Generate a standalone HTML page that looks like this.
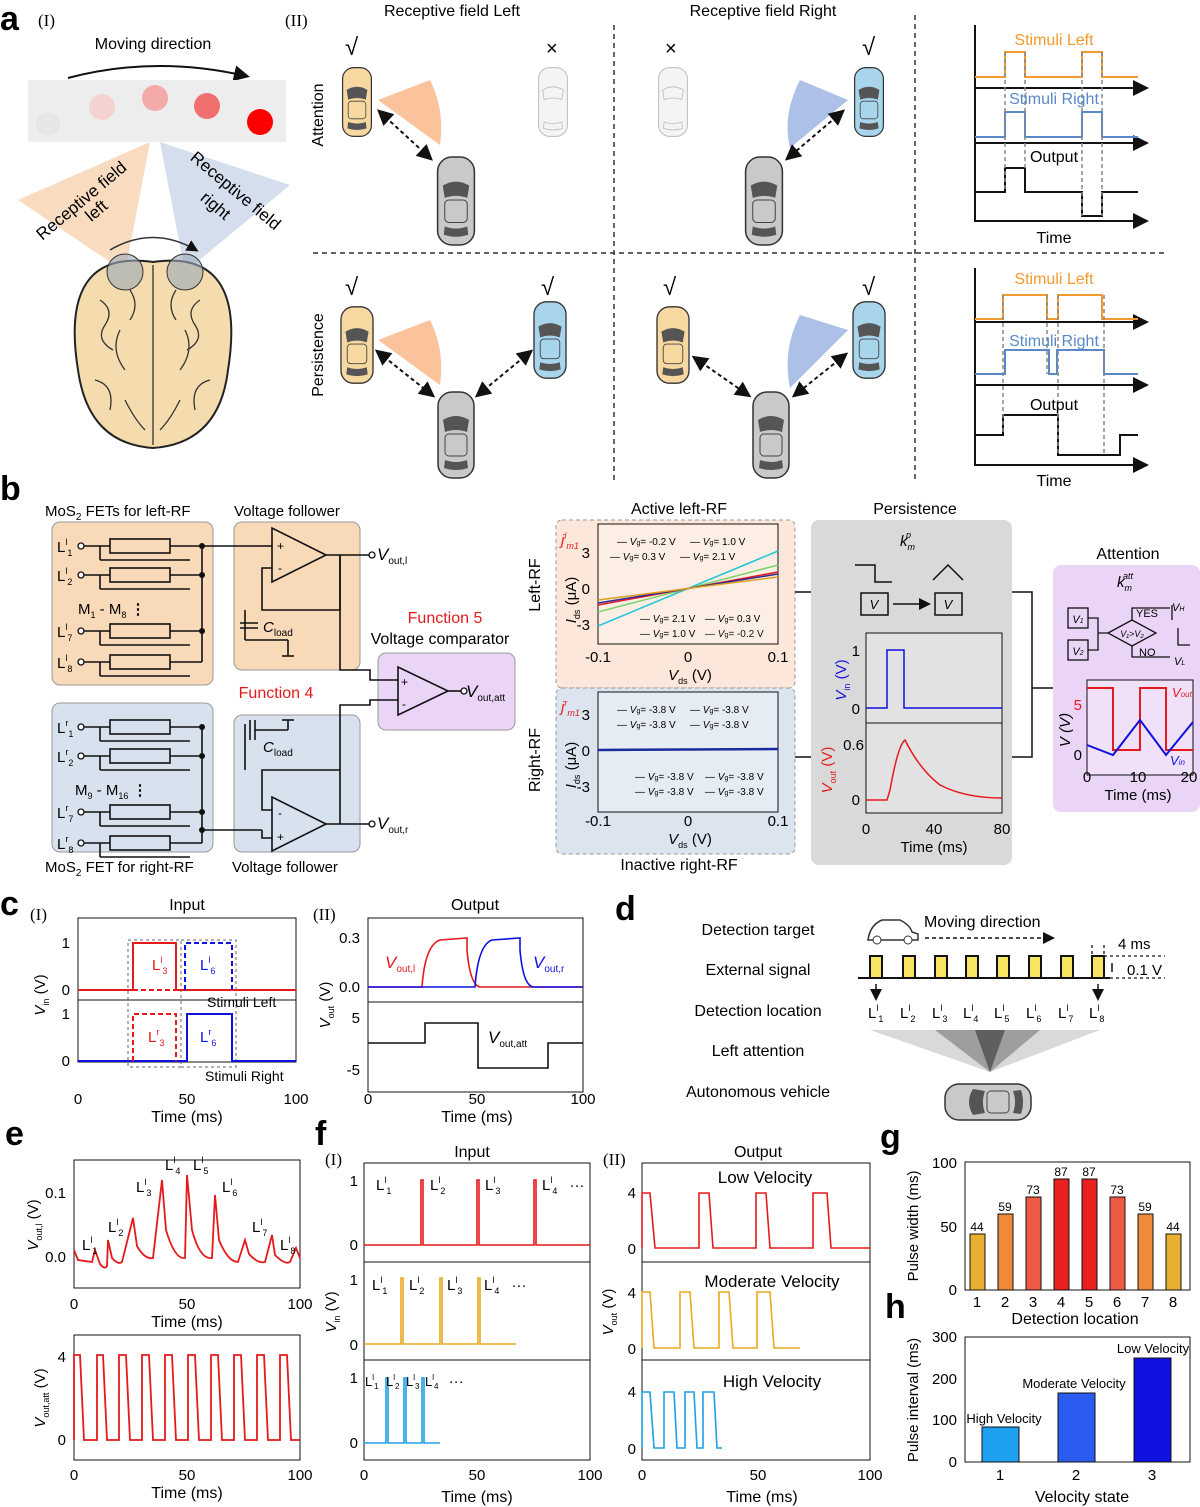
<!DOCTYPE html>
<html><head><meta charset="utf-8"><style>
html,body{margin:0;padding:0;background:#fff}
svg{display:block;font-family:"Liberation Sans",sans-serif}
</style></head><body>
<svg width="1200" height="1507" viewBox="0 0 1200 1507" xmlns="http://www.w3.org/2000/svg">
<defs>
<symbol id="car" viewBox="0 0 40 90">
<rect x="2" y="2" width="36" height="86" rx="14" fill="currentColor" stroke="#333" stroke-width="1.5"/>
<path d="M7 30 Q20 22 33 30 L31 42 Q20 38 9 42Z" fill="#555"/>
<rect x="9" y="44" width="22" height="22" rx="4" fill="none" stroke="#444"/>
<path d="M9 70 Q20 74 31 70 L32 78 Q20 82 8 78Z" fill="#555"/>
</symbol>
<symbol id="ghost" viewBox="0 0 40 90">
<rect x="2" y="2" width="36" height="86" rx="14" fill="#f4f4f4" stroke="#bbb" stroke-width="1.2"/>
<path d="M7 30 Q20 22 33 30 L31 42 Q20 38 9 42Z" fill="none" stroke="#bbb"/>
<path d="M9 70 Q20 74 31 70 L32 78 Q20 82 8 78Z" fill="none" stroke="#bbb"/>
</symbol>
<marker id="ah" markerWidth="8" markerHeight="8" refX="6" refY="4" orient="auto"><path d="M0 0L8 4L0 8Z" fill="#111"/></marker>
<marker id="ahs" markerWidth="8" markerHeight="8" refX="6" refY="4" orient="auto-start-reverse"><path d="M0 0L8 4L0 8Z" fill="#111"/></marker>
</defs>
<rect width="1200" height="1507" fill="#fff"/>

<!-- ===== Panel a ===== -->
<text x="0" y="30" font-size="34" font-weight="bold">a</text>
<text x="38" y="26" font-size="17" font-family="Liberation Serif">(I)</text>
<text x="153" y="49" font-size="16" text-anchor="middle">Moving direction</text>
<path d="M68 78 Q155 55 246 76" fill="none" stroke="#111" stroke-width="2" marker-end="url(#ah)"/>
<rect x="28" y="80" width="258" height="62" fill="#ededed"/>
<circle cx="48" cy="124" r="12" fill="#e6e6e6"/>
<circle cx="102" cy="107" r="13" fill="#f4d2d0"/>
<circle cx="155" cy="98" r="13" fill="#f5aaaa"/>
<circle cx="207" cy="106" r="13" fill="#f07070"/>
<circle cx="260" cy="122" r="13" fill="#f00"/>
<path d="M125 272 L18 200 L150 142Z" fill="#f8d3b0" opacity="0.8"/>
<path d="M185 272 L160 142 L290 185Z" fill="#c9d6e8" opacity="0.8"/>
<text transform="translate(85,205) rotate(-40)" font-size="17" text-anchor="middle">Receptive field</text>
<text transform="translate(100,215) rotate(-40)" font-size="17" text-anchor="middle">left</text>
<text transform="translate(232,195) rotate(40)" font-size="17" text-anchor="middle">Receptive field</text>
<text transform="translate(212,210) rotate(40)" font-size="17" text-anchor="middle">right</text>
<path d="M110 250 Q153 225 196 250" fill="none" stroke="#333" stroke-width="1.5" marker-end="url(#ah)"/>
<path d="M153 262 C70 250 70 320 78 370 C85 420 110 445 153 448 C196 445 222 420 228 370 C236 320 236 250 153 262Z" fill="#f5dcae" stroke="#222" stroke-width="2"/>
<path d="M153 265 L153 445 M100 300 q15 10 5 25 q-10 15 8 25 M120 330 q-10 20 5 40 M200 300 q-15 10 -5 25 q10 15 -8 25 M185 330 q10 20 -5 40 M95 380 q20 5 15 30 M210 380 q-20 5 -15 30 M130 290 q10 15 0 30 M176 290 q-10 15 0 30 M125 400 q10 20 20 30 M180 400 q-10 20 -20 30" fill="none" stroke="#333" stroke-width="1.3"/>
<circle cx="125" cy="272" r="18" fill="#9aa9b8" fill-opacity="0.6" stroke="#333"/>
<circle cx="185" cy="272" r="18" fill="#9aa9b8" fill-opacity="0.6" stroke="#333"/>

<text x="285" y="26" font-size="17" font-family="Liberation Serif">(II)</text>
<text x="452" y="16" font-size="16" text-anchor="middle">Receptive field Left</text>
<text x="763" y="16" font-size="16" text-anchor="middle">Receptive field Right</text>
<line x1="614" y1="25" x2="614" y2="482" stroke="#333" stroke-width="1.5" stroke-dasharray="5,4"/>
<line x1="915" y1="15" x2="915" y2="482" stroke="#333" stroke-width="1.5" stroke-dasharray="5,4"/>
<line x1="313" y1="253" x2="1165" y2="253" stroke="#333" stroke-width="1.5" stroke-dasharray="5,4"/>
<text transform="translate(323,115) rotate(-90)" font-size="16" text-anchor="middle">Attention</text>
<text transform="translate(323,355) rotate(-90)" font-size="16" text-anchor="middle">Persistence</text>
<g font-size="24">
<text x="345" y="55">√</text><text x="546" y="55" font-size="20">×</text><text x="665" y="55" font-size="20">×</text><text x="862" y="55">√</text>
<text x="345" y="295">√</text><text x="541" y="295">√</text><text x="663" y="295">√</text><text x="862" y="295">√</text>
</g>
<!-- waves -->
<path d="M378 100 L430 80 Q445 110 440 145 Z" fill="#f9b98a" opacity="0.85"/>
<path d="M848 100 L800 80 Q782 115 790 148 Z" fill="#9fb6e4" opacity="0.85"/>
<path d="M378 340 L430 320 Q445 350 440 385 Z" fill="#f9b98a" opacity="0.85"/>
<path d="M848 330 L800 315 Q782 350 790 388 Z" fill="#9fb6e4" opacity="0.85"/>
<use href="#car" x="337" y="66" width="40" height="72" style="color:#f7d8a0"/>
<use href="#ghost" x="535" y="66" width="36" height="72"/>
<use href="#ghost" x="655" y="66" width="36" height="72"/>
<use href="#car" x="849" y="66" width="40" height="72" style="color:#a8d4ec"/>
<use href="#car" x="435" y="155" width="42" height="92" style="color:#c9c9c9"/>
<use href="#car" x="743" y="155" width="42" height="92" style="color:#c9c9c9"/>
<use href="#car" x="337" y="305" width="40" height="80" style="color:#f7d8a0"/>
<use href="#car" x="530" y="300" width="40" height="80" style="color:#a8d4ec"/>
<use href="#car" x="655" y="305" width="36" height="80" style="color:#f7d8a0"/>
<use href="#car" x="849" y="300" width="40" height="80" style="color:#a8d4ec"/>
<use href="#car" x="435" y="390" width="42" height="90" style="color:#c9c9c9"/>
<use href="#car" x="750" y="390" width="42" height="90" style="color:#c9c9c9"/>
<g stroke="#111" stroke-width="2" stroke-dasharray="4,3" fill="none">
<line x1="380" y1="112" x2="430" y2="158" marker-start="url(#ahs)" marker-end="url(#ah)"/>
<line x1="842" y1="112" x2="788" y2="158" marker-start="url(#ahs)" marker-end="url(#ah)"/>
<line x1="378" y1="352" x2="432" y2="395" marker-start="url(#ahs)" marker-end="url(#ah)"/>
<line x1="530" y1="352" x2="478" y2="395" marker-start="url(#ahs)" marker-end="url(#ah)"/>
<line x1="695" y1="358" x2="748" y2="395" marker-start="url(#ahs)" marker-end="url(#ah)"/>
<line x1="845" y1="355" x2="795" y2="395" marker-start="url(#ahs)" marker-end="url(#ah)"/>
</g>
<!-- timing top -->
<g stroke-width="2" fill="none">
<line x1="975" y1="25" x2="975" y2="222" stroke="#111"/>
<line x1="975" y1="88" x2="1145" y2="88" stroke="#111" marker-end="url(#ah)"/>
<line x1="975" y1="143" x2="1145" y2="143" stroke="#111" marker-end="url(#ah)"/>
<line x1="975" y1="221" x2="1145" y2="221" stroke="#111" marker-end="url(#ah)"/>
<path d="M975 77 H1005 V52 H1025 V77 H1082 V52 H1102 V77 H1138" stroke="#f39a2c"/>
<path d="M975 137 H1005 V112 H1025 V137 H1082 V112 H1102 V137 H1138" stroke="#5b88c8"/>
<path d="M975 192 H1005 V168 H1025 V192 H1082 V216 H1102 V192 H1138" stroke="#111"/>
<g stroke="#888" stroke-dasharray="4,3" stroke-width="1.5"><line x1="1005" y1="52" x2="1005" y2="192"/><line x1="1025" y1="52" x2="1025" y2="168"/><line x1="1082" y1="52" x2="1082" y2="216"/><line x1="1102" y1="52" x2="1102" y2="216"/></g>
</g>
<text x="1054" y="45" font-size="16" fill="#f39a2c" text-anchor="middle">Stimuli Left</text>
<text x="1054" y="104" font-size="16" fill="#5b88c8" text-anchor="middle">Stimuli Right</text>
<text x="1054" y="162" font-size="16" text-anchor="middle">Output</text>
<text x="1054" y="243" font-size="16" text-anchor="middle">Time</text>
<!-- timing bottom -->
<g stroke-width="2" fill="none">
<line x1="975" y1="268" x2="975" y2="466" stroke="#111"/>
<line x1="975" y1="322" x2="1145" y2="322" stroke="#111" marker-end="url(#ah)"/>
<line x1="975" y1="385" x2="1145" y2="385" stroke="#111" marker-end="url(#ah)"/>
<line x1="975" y1="465" x2="1145" y2="465" stroke="#111" marker-end="url(#ah)"/>
<path d="M975 319 H1003 V295 H1047 V319 H1058 V295 H1102 V319 H1138" stroke="#f39a2c"/>
<path d="M975 374 H1005 V350 H1049 V374 H1057 V350 H1104 V374 H1138" stroke="#5b88c8"/>
<path d="M975 435 H1003 V415 H1058 V455 H1104 V455 H1120 V435 H1138" stroke="#111"/>
<g stroke="#888" stroke-dasharray="4,3" stroke-width="1.5"><line x1="1003" y1="295" x2="1003" y2="435"/><line x1="1047" y1="295" x2="1047" y2="374"/><line x1="1058" y1="295" x2="1058" y2="455"/><line x1="1104" y1="295" x2="1104" y2="455"/></g>
</g>
<text x="1054" y="284" font-size="16" fill="#f39a2c" text-anchor="middle">Stimuli Left</text>
<text x="1054" y="346" font-size="16" fill="#5b88c8" text-anchor="middle">Stimuli Right</text>
<text x="1054" y="410" font-size="16" text-anchor="middle">Output</text>
<text x="1054" y="486" font-size="16" text-anchor="middle">Time</text>

<!-- ===== Panel b ===== -->
<text x="0" y="500" font-size="34" font-weight="bold">b</text>
<text x="45" y="516" font-size="15">MoS<tspan font-size="10" dy="4">2</tspan><tspan dy="-4"> FETs for left-RF</tspan></text>
<text x="234" y="516" font-size="15">Voltage follower</text>
<rect x="52" y="522" width="161" height="163" rx="8" fill="#f8d9b8" stroke="#999"/>
<rect x="52" y="703" width="161" height="149" rx="8" fill="#d8e2ee" stroke="#999"/>
<rect x="234" y="522" width="126" height="148" rx="8" fill="#f8d9b8" stroke="#999"/>
<rect x="234" y="715" width="126" height="137" rx="8" fill="#d8e2ee" stroke="#999"/>
<rect x="378" y="653" width="137" height="77" rx="8" fill="#ead5f7" stroke="#999"/>
<g stroke="#111" stroke-width="1.6" fill="none">
<!-- left FETs -->
<g id="fets">
<rect x="110" y="539" width="60" height="14"/><line x1="84" y1="546" x2="110" y2="546"/><line x1="170" y1="546" x2="202" y2="546"/><line x1="100" y1="560" x2="190" y2="560"/><line x1="100" y1="546" x2="100" y2="560"/>
<rect x="110" y="568" width="60" height="14"/><line x1="84" y1="575" x2="110" y2="575"/><line x1="170" y1="575" x2="202" y2="575"/><line x1="100" y1="589" x2="190" y2="589"/><line x1="100" y1="575" x2="100" y2="589"/>
<rect x="110" y="624" width="60" height="14"/><line x1="84" y1="631" x2="110" y2="631"/><line x1="170" y1="631" x2="202" y2="631"/><line x1="100" y1="645" x2="190" y2="645"/><line x1="100" y1="631" x2="100" y2="645"/>
<rect x="110" y="655" width="60" height="14"/><line x1="84" y1="662" x2="110" y2="662"/><line x1="170" y1="662" x2="202" y2="662"/><line x1="100" y1="676" x2="190" y2="676"/><line x1="100" y1="662" x2="100" y2="676"/>
</g>
<use href="#fets" y="181"/>
<line x1="202" y1="546" x2="202" y2="662"/>
<line x1="202" y1="727" x2="202" y2="843"/>
<line x1="202" y1="546" x2="262" y2="546"/>
<line x1="202" y1="830" x2="262" y2="830"/>
<!-- opamp left -->
<path d="M272 528 L272 582 L326 555Z" fill="#f8d9b8"/>
<line x1="262" y1="546" x2="272" y2="546"/>
<path d="M272 568 H262 V610 H340 V555 M326 555 H370"/>
<line x1="245" y1="610" x2="245" y2="640"/><line x1="240" y1="623" x2="258" y2="623"/><line x1="240" y1="628" x2="258" y2="628"/><line x1="288" y1="645" x2="288" y2="656"/><line x1="282" y1="656" x2="294" y2="656"/>
<line x1="245" y1="640" x2="288" y2="640"/><line x1="288" y1="640" x2="288" y2="645"/>
<!-- opamp right -->
<path d="M272 797 L272 851 L326 824Z" fill="#d8e2ee"/>
<path d="M262 830 V838 H272 M272 810 H262 V770 H340 V824 M326 824 H370"/>
<line x1="245" y1="724" x2="245" y2="770"/><line x1="250" y1="720" x2="250" y2="740"/><line x1="255" y1="720" x2="255" y2="740"/><line x1="255" y1="730" x2="288" y2="730"/><line x1="288" y1="720" x2="288" y2="730"/><line x1="282" y1="720" x2="294" y2="720"/>
<!-- to comparator -->
<path d="M340 555 V670 H370 V680 H398"/>
<path d="M340 770 V705 H370 V700 H398"/>
<path d="M398 667 L398 715 L448 691Z" fill="#ead5f7"/>
<line x1="448" y1="691" x2="462" y2="691"/>
</g>
<g fill="#fff" stroke="#111" stroke-width="1.3">
<circle cx="81" cy="546" r="3"/><circle cx="81" cy="575" r="3"/><circle cx="81" cy="631" r="3"/><circle cx="81" cy="662" r="3"/>
<circle cx="81" cy="727" r="3"/><circle cx="81" cy="756" r="3"/><circle cx="81" cy="812" r="3"/><circle cx="81" cy="843" r="3"/>
<circle cx="372" cy="555" r="3"/><circle cx="372" cy="824" r="3"/><circle cx="464" cy="691" r="3"/>
</g>
<g fill="#111"><circle cx="202" cy="546" r="3"/><circle cx="202" cy="575" r="3"/><circle cx="202" cy="631" r="3"/><circle cx="202" cy="727" r="3"/><circle cx="202" cy="756" r="3"/><circle cx="202" cy="812" r="3"/><circle cx="202" cy="830" r="3"/></g>
<g font-size="15">
<text x="57" y="552">L<tspan font-size="9" dy="-7">l</tspan><tspan font-size="9" dy="11">1</tspan></text>
<text x="57" y="581">L<tspan font-size="9" dy="-7">l</tspan><tspan font-size="9" dy="11">2</tspan></text>
<text x="78" y="614">M<tspan font-size="9" dy="4">1</tspan><tspan dy="-4"> - M</tspan><tspan font-size="9" dy="4">8</tspan><tspan dy="-4" font-weight="bold"> ⋮</tspan></text>
<text x="57" y="637">L<tspan font-size="9" dy="-7">l</tspan><tspan font-size="9" dy="11">7</tspan></text>
<text x="57" y="668">L<tspan font-size="9" dy="-7">l</tspan><tspan font-size="9" dy="11">8</tspan></text>
<text x="57" y="733">L<tspan font-size="9" dy="-7">r</tspan><tspan font-size="9" dy="11">1</tspan></text>
<text x="57" y="762">L<tspan font-size="9" dy="-7">r</tspan><tspan font-size="9" dy="11">2</tspan></text>
<text x="75" y="795">M<tspan font-size="9" dy="4">9</tspan><tspan dy="-4"> - M</tspan><tspan font-size="9" dy="4">16</tspan><tspan dy="-4" font-weight="bold"> ⋮</tspan></text>
<text x="57" y="818">L<tspan font-size="9" dy="-7">r</tspan><tspan font-size="9" dy="11">7</tspan></text>
<text x="57" y="849">L<tspan font-size="9" dy="-7">r</tspan><tspan font-size="9" dy="11">8</tspan></text>
<text x="277" y="550" font-size="12">+</text><text x="278" y="572" font-size="12">-</text>
<text x="278" y="817" font-size="12">-</text><text x="277" y="841" font-size="12">+</text>
<text x="401" y="686" font-size="12">+</text><text x="402" y="708" font-size="12">-</text>
<text x="263" y="632" font-style="italic">C<tspan font-size="10" dy="4" font-style="normal">load</tspan></text>
<text x="263" y="752" font-style="italic">C<tspan font-size="10" dy="4" font-style="normal">load</tspan></text>
<text x="377" y="560" font-style="italic" font-size="17">V<tspan font-size="10" dy="4" font-style="normal">out,l</tspan></text>
<text x="377" y="829" font-style="italic" font-size="17">V<tspan font-size="10" dy="4" font-style="normal">out,r</tspan></text>
<text x="466" y="697" font-style="italic" font-size="17">V<tspan font-size="10" dy="4" font-style="normal">out,att</tspan></text>
<text x="445" y="623" fill="#e41a1c" text-anchor="middle" font-size="16">Function 5</text>
<text x="440" y="644" text-anchor="middle" font-size="16">Voltage comparator</text>
<text x="276" y="698" fill="#e41a1c" text-anchor="middle" font-size="16">Function 4</text>
<text x="45" y="872">MoS<tspan font-size="10" dy="4">2</tspan><tspan dy="-4"> FET for right-RF</tspan></text>
<text x="232" y="872">Voltage follower</text>
</g>
<!-- b plots -->
<text x="679" y="514" font-size="16" text-anchor="middle">Active left-RF</text>
<text x="679" y="870" font-size="16" text-anchor="middle">Inactive right-RF</text>
<rect x="556" y="520" width="239" height="168" rx="6" fill="#fce7da" stroke="#999" stroke-dasharray="4,3"/>
<rect x="556" y="688" width="239" height="166" rx="6" fill="#dbe4ef" stroke="#999" stroke-dasharray="4,3"/>
<rect x="598" y="524" width="180" height="120" fill="#fff" fill-opacity="0.3" stroke="#111"/>
<rect x="598" y="692" width="180" height="120" fill="#fff" fill-opacity="0.3" stroke="#111"/>
<g stroke-width="1.5" fill="none">
<line x1="598" y1="626" x2="778" y2="551" stroke="#22c5d6"/>
<line x1="598" y1="612" x2="778" y2="565" stroke="#7cd36a"/>
<line x1="598" y1="605" x2="778" y2="572" stroke="#e41a1c"/>
<line x1="598" y1="603" x2="778" y2="574" stroke="#2b2b9a"/>
<line x1="598" y1="600" x2="778" y2="577" stroke="#e0a020"/>
<line x1="598" y1="750" x2="778" y2="749" stroke="#1a2a9a" stroke-width="2.5"/>
</g>
<g font-size="10">
<text x="617" y="545">— <tspan font-style="italic">V</tspan><tspan font-size="7">g</tspan>= -0.2 V</text><text x="690" y="545">— <tspan font-style="italic">V</tspan><tspan font-size="7">g</tspan>= 1.0 V</text>
<text x="610" y="560">— <tspan font-style="italic">V</tspan><tspan font-size="7">g</tspan>= 0.3 V</text><text x="680" y="560">— <tspan font-style="italic">V</tspan><tspan font-size="7">g</tspan>= 2.1 V</text>
<text x="640" y="622">— <tspan font-style="italic">V</tspan><tspan font-size="7">g</tspan>= 2.1 V</text><text x="705" y="622">— <tspan font-style="italic">V</tspan><tspan font-size="7">g</tspan>= 0.3 V</text>
<text x="640" y="637">— <tspan font-style="italic">V</tspan><tspan font-size="7">g</tspan>= 1.0 V</text><text x="705" y="637" fill="#111">— <tspan font-style="italic">V</tspan><tspan font-size="7">g</tspan>= -0.2 V</text>
<text x="617" y="713">— <tspan font-style="italic">V</tspan><tspan font-size="7">g</tspan>= -3.8 V</text><text x="690" y="713">— <tspan font-style="italic">V</tspan><tspan font-size="7">g</tspan>= -3.8 V</text>
<text x="617" y="728">— <tspan font-style="italic">V</tspan><tspan font-size="7">g</tspan>= -3.8 V</text><text x="690" y="728">— <tspan font-style="italic">V</tspan><tspan font-size="7">g</tspan>= -3.8 V</text>
<text x="635" y="780">— <tspan font-style="italic">V</tspan><tspan font-size="7">g</tspan>= -3.8 V</text><text x="705" y="780">— <tspan font-style="italic">V</tspan><tspan font-size="7">g</tspan>= -3.8 V</text>
<text x="635" y="795">— <tspan font-style="italic">V</tspan><tspan font-size="7">g</tspan>= -3.8 V</text><text x="705" y="795">— <tspan font-style="italic">V</tspan><tspan font-size="7">g</tspan>= -3.8 V</text>
</g>
<g font-size="15">
<text x="561" y="545" fill="#e41a1c" font-style="italic">j<tspan font-size="9" dy="-6">l</tspan><tspan font-size="9" dy="10">m1</tspan></text>
<text x="561" y="712" fill="#e41a1c" font-style="italic">j<tspan font-size="9" dy="-6">r</tspan><tspan font-size="9" dy="10">m1</tspan></text>
<text x="590" y="558" text-anchor="end">3</text><text x="590" y="594" text-anchor="end">0</text><text x="590" y="630" text-anchor="end">-3</text>
<text x="590" y="720" text-anchor="end">3</text><text x="590" y="756" text-anchor="end">0</text><text x="590" y="792" text-anchor="end">-3</text>
<text x="598" y="662" text-anchor="middle">-0.1</text><text x="688" y="662" text-anchor="middle">0</text><text x="778" y="662" text-anchor="middle">0.1</text>
<text x="598" y="826" text-anchor="middle">-0.1</text><text x="688" y="826" text-anchor="middle">0</text><text x="778" y="826" text-anchor="middle">0.1</text>
<text x="690" y="680" text-anchor="middle" font-style="italic">V<tspan font-size="9" dy="4" font-style="normal">ds</tspan><tspan dy="-4" font-style="normal"> (V)</tspan></text>
<text x="690" y="844" text-anchor="middle" font-style="italic">V<tspan font-size="9" dy="4" font-style="normal">ds</tspan><tspan dy="-4" font-style="normal"> (V)</tspan></text>
<text transform="translate(576,600) rotate(-90)" text-anchor="middle" font-style="italic">I<tspan font-size="9" dy="4" font-style="normal">ds</tspan><tspan dy="-4" font-style="normal"> (μA)</tspan></text>
<text transform="translate(576,765) rotate(-90)" text-anchor="middle" font-style="italic">I<tspan font-size="9" dy="4" font-style="normal">ds</tspan><tspan dy="-4" font-style="normal"> (μA)</tspan></text>
<text transform="translate(540,585) rotate(-90)" text-anchor="middle" font-size="16">Left-RF</text>
<text transform="translate(540,760) rotate(-90)" text-anchor="middle" font-size="16">Right-RF</text>
</g>
<!-- persistence -->
<text x="915" y="514" font-size="16" text-anchor="middle">Persistence</text>
<rect x="811" y="520" width="201" height="345" rx="8" fill="#d9d9d9"/>
<text x="900" y="546" font-size="15" font-style="italic">k<tspan font-size="9" dy="4">m</tspan><tspan font-size="9" dx="-9" dy="-12">p</tspan></text>
<path d="M855 565 H875 V582 H892" fill="none" stroke="#111" stroke-width="1.5"/>
<path d="M933 580 L948 565 L963 580" fill="none" stroke="#111" stroke-width="1.5"/>
<rect x="861" y="593" width="27" height="22" fill="none" stroke="#111" stroke-width="1.5"/>
<rect x="935" y="593" width="27" height="22" fill="none" stroke="#111" stroke-width="1.5"/>
<text x="874" y="609" font-size="13" font-style="italic" text-anchor="middle">V</text>
<text x="948" y="609" font-size="13" font-style="italic" text-anchor="middle">V</text>
<line x1="893" y1="604" x2="928" y2="604" stroke="#111" stroke-width="1.5" marker-end="url(#ah)"/>
<rect x="866" y="633" width="136" height="90" fill="#fff" fill-opacity="0.25" stroke="#111"/>
<rect x="866" y="723" width="136" height="90" fill="#fff" fill-opacity="0.25" stroke="#111"/>
<path d="M866 708 H887 V650 H904 V708 H1002" fill="none" stroke="#1010e0" stroke-width="1.5"/>
<path d="M866 800 H887 L890 790 Q898 745 905 740 Q920 770 940 785 Q965 798 1002 798" fill="none" stroke="#e41a1c" stroke-width="1.5"/>
<g font-size="15">
<text x="860" y="656" text-anchor="end">1</text><text x="860" y="714" text-anchor="end">0</text>
<text x="864" y="750" text-anchor="end">0.6</text><text x="860" y="805" text-anchor="end">0</text>
<text x="866" y="834" text-anchor="middle">0</text><text x="934" y="834" text-anchor="middle">40</text><text x="1002" y="834" text-anchor="middle">80</text>
<text x="934" y="852" text-anchor="middle">Time (ms)</text>
<text transform="translate(846,680) rotate(-90)" text-anchor="middle" fill="#1010e0" font-style="italic">V<tspan font-size="9" dy="4" font-style="normal">in</tspan><tspan dy="-4" font-style="normal"> (V)</tspan></text>
<text transform="translate(832,770) rotate(-90)" text-anchor="middle" fill="#e41a1c" font-style="italic">V<tspan font-size="9" dy="4" font-style="normal">out</tspan><tspan dy="-4" font-style="normal"> (V)</tspan></text>
</g>
<g stroke="#111" stroke-width="1.5" fill="none">
<path d="M795 592 H811"/><path d="M795 757 H811"/>
<path d="M1012 592 H1032 V757 H1012"/><path d="M1032 688 H1053"/>
</g>
<!-- attention -->
<text x="1128" y="559" font-size="16" text-anchor="middle">Attention</text>
<rect x="1053" y="565" width="147" height="247" rx="8" fill="#ead5f7"/>
<text x="1117" y="587" font-size="15" font-style="italic">k<tspan font-size="9" dy="4">m</tspan><tspan font-size="9" dx="-9" dy="-12">att</tspan></text>
<g stroke="#111" stroke-width="1.3" fill="none">
<rect x="1068" y="608" width="20" height="20"/><rect x="1068" y="640" width="20" height="20"/>
<path d="M1088 618 H1098 V650 H1088 M1098 633 H1108"/>
<path d="M1108 633 L1132 620 L1156 633 L1132 646Z"/>
<path d="M1132 620 V608 H1170 M1132 646 V657 H1170"/>
<path d="M1172 605 V620 M1178 628 V645 H1190"/>
</g>
<g font-size="11">
<text x="1078" y="623" text-anchor="middle" font-style="italic">V<tspan font-size="7">1</tspan></text>
<text x="1078" y="655" text-anchor="middle" font-style="italic">V<tspan font-size="7">2</tspan></text>
<text x="1132" y="637" text-anchor="middle" font-size="9" font-style="italic">V₁&gt;V₂</text>
<text x="1136" y="617">YES</text><text x="1139" y="656">NO</text>
<text x="1172" y="611" font-style="italic">V<tspan font-size="7">H</tspan></text>
<text x="1174" y="665" font-style="italic">V<tspan font-size="7">L</tspan></text>
</g>
<rect x="1087" y="680" width="106" height="95" fill="#fff" fill-opacity="0.3" stroke="#111"/>
<path d="M1087 688 H1113 V750 H1140 V688 H1166 V750 H1193" fill="none" stroke="#e41a1c" stroke-width="2"/>
<path d="M1087 745 L1113 755 L1140 720 L1166 755 L1193 722" fill="none" stroke="#1010e0" stroke-width="2"/>
<g font-size="15">
<text x="1082" y="710" text-anchor="end" fill="#e41a1c">5</text><text x="1082" y="760" text-anchor="end">0</text>
<text x="1087" y="782" text-anchor="middle">0</text><text x="1138" y="782" text-anchor="middle">10</text><text x="1189" y="782" text-anchor="middle">20</text>
<text x="1138" y="800" text-anchor="middle">Time (ms)</text>
<text transform="translate(1070,730) rotate(-90)" text-anchor="middle" font-style="italic">V (V)</text>
<text x="1172" y="697" fill="#e41a1c" font-size="13" font-style="italic">V<tspan font-size="8">out</tspan></text>
<text x="1170" y="765" fill="#1010e0" font-size="13" font-style="italic">V<tspan font-size="8">in</tspan></text>
</g>

<!-- ===== Panel c ===== -->
<text x="0" y="915" font-size="34" font-weight="bold">c</text>
<text x="30" y="920" font-size="17" font-family="Liberation Serif">(I)</text>
<text x="187" y="910" font-size="16" text-anchor="middle">Input</text>
<rect x="78" y="918" width="218" height="144" fill="none" stroke="#111"/>
<line x1="78" y1="1000" x2="296" y2="1000" stroke="#111"/>
<rect x="128" y="940" width="53" height="127" fill="none" stroke="#666" stroke-dasharray="3,3"/>
<rect x="181" y="940" width="55" height="127" fill="none" stroke="#666" stroke-dasharray="3,3"/>
<g stroke-width="2" fill="none">
<path d="M78 990 H133 V943 H176 V990 H296" stroke="#e41a1c"/>
<path d="M185 990 V943 H232 V990" stroke="#1010e0" stroke-dasharray="5,3"/>
<path d="M133 990 H176" stroke="#e41a1c" stroke-dasharray="5,3"/>
<path d="M78 1061 H187 V1014 H232 V1061 H296" stroke="#1010e0"/>
<path d="M133 1061 V1014 H176 V1061" stroke="#e41a1c" stroke-dasharray="5,3"/>
</g>
<g font-size="15">
<text x="152" y="970" fill="#e41a1c">L<tspan font-size="9" dy="-7">l</tspan><tspan font-size="9" dy="11">3</tspan></text>
<text x="200" y="970" fill="#1010e0">L<tspan font-size="9" dy="-7">l</tspan><tspan font-size="9" dy="11">6</tspan></text>
<text x="148" y="1042" fill="#e41a1c">L<tspan font-size="9" dy="-7">r</tspan><tspan font-size="9" dy="11">3</tspan></text>
<text x="200" y="1042" fill="#1010e0">L<tspan font-size="9" dy="-7">r</tspan><tspan font-size="9" dy="11">6</tspan></text>
<text x="207" y="1007" font-size="14">Stimuli Left</text>
<text x="205" y="1081" font-size="14">Stimuli Right</text>
<text x="70" y="948" text-anchor="end">1</text><text x="70" y="995" text-anchor="end">0</text>
<text x="70" y="1019" text-anchor="end">1</text><text x="70" y="1066" text-anchor="end">0</text>
<text x="78" y="1104" text-anchor="middle">0</text><text x="187" y="1104" text-anchor="middle">50</text><text x="296" y="1104" text-anchor="middle">100</text>
<text x="187" y="1122" text-anchor="middle" font-size="16">Time (ms)</text>
<text transform="translate(45,995) rotate(-90)" text-anchor="middle" font-style="italic">V<tspan font-size="9" dy="4" font-style="normal">in</tspan><tspan dy="-4" font-style="normal"> (V)</tspan></text>
</g>
<text x="313" y="920" font-size="17" font-family="Liberation Serif">(II)</text>
<text x="475" y="910" font-size="16" text-anchor="middle">Output</text>
<rect x="368" y="918" width="215" height="174" fill="none" stroke="#111"/>
<line x1="368" y1="1002" x2="583" y2="1002" stroke="#111"/>
<g stroke-width="1.6" fill="none">
<path d="M368 987 H422 Q425 945 440 940 L467 938 V950 Q470 985 480 987 H583" stroke="#e41a1c"/>
<path d="M368 987 H475 Q478 945 492 940 L520 938 V950 Q523 985 533 987 H583" stroke="#1010e0"/>
<path d="M368 1043 H425 V1023 H478 V1068 H548 V1043 H583" stroke="#111"/>
</g>
<g font-size="15">
<text x="360" y="943" text-anchor="end">0.3</text><text x="360" y="992" text-anchor="end">0.0</text>
<text x="360" y="1023" text-anchor="end">5</text><text x="360" y="1075" text-anchor="end">-5</text>
<text x="368" y="1104" text-anchor="middle">0</text><text x="477" y="1104" text-anchor="middle">50</text><text x="583" y="1104" text-anchor="middle">100</text>
<text x="477" y="1122" text-anchor="middle" font-size="16">Time (ms)</text>
<text x="385" y="968" fill="#e41a1c" font-style="italic" font-size="17">V<tspan font-size="10" dy="4" font-style="normal">out,l</tspan></text>
<text x="533" y="968" fill="#1010e0" font-style="italic" font-size="17">V<tspan font-size="10" dy="4" font-style="normal">out,r</tspan></text>
<text x="488" y="1043" font-style="italic" font-size="17">V<tspan font-size="10" dy="4" font-style="normal">out,att</tspan></text>
<text transform="translate(330,1005) rotate(-90)" text-anchor="middle" font-style="italic">V<tspan font-size="9" dy="4" font-style="normal">out</tspan><tspan dy="-4" font-style="normal"> (V)</tspan></text>
</g>

<!-- ===== Panel d ===== -->
<text x="615" y="920" font-size="34" font-weight="bold">d</text>
<g font-size="16" text-anchor="middle">
<text x="758" y="935">Detection target</text><text x="758" y="975">External signal</text>
<text x="758" y="1016">Detection location</text><text x="758" y="1056">Left attention</text>
<text x="758" y="1097">Autonomous vehicle</text>
</g>
<path d="M868 940 Q870 925 882 920 H900 Q910 925 912 932 L918 934 V940Z" fill="#fff" stroke="#333" stroke-width="1.5"/>
<circle cx="877" cy="940" r="4" fill="#fff" stroke="#333"/><circle cx="908" cy="940" r="4" fill="#fff" stroke="#333"/>
<text x="924" y="927" font-size="16">Moving direction</text>
<line x1="925" y1="938" x2="1052" y2="938" stroke="#111" stroke-width="1.5" stroke-dasharray="4,3" marker-end="url(#ah)"/>
<path d="M870 1030 L1100 1030 L990 1072Z" fill="#aaa" opacity="0.45"/>
<path d="M935 1030 L1040 1030 L990 1072Z" fill="#777" opacity="0.6"/>
<path d="M975 1030 L1005 1030 L990 1072Z" fill="#444" opacity="0.7"/>
<path d="M858 978 H1110" stroke="#111" stroke-width="2"/>
<g fill="#f7e463" stroke="#111" stroke-width="2">
<rect x="870" y="956" width="12" height="22"/><rect x="903" y="956" width="12" height="22"/><rect x="935" y="956" width="12" height="22"/><rect x="966" y="956" width="12" height="22"/>
<rect x="997" y="956" width="12" height="22"/><rect x="1029" y="956" width="12" height="22"/><rect x="1061" y="956" width="12" height="22"/><rect x="1092" y="956" width="12" height="22"/>
</g>
<g stroke="#111" stroke-width="1.3" stroke-dasharray="3,3"><line x1="1092" y1="945" x2="1092" y2="956"/><line x1="1104" y1="945" x2="1104" y2="956"/><line x1="1104" y1="956" x2="1165" y2="956"/><line x1="1104" y1="978" x2="1165" y2="978"/></g>
<text x="1118" y="949" font-size="15">4 ms</text><text x="1127" y="975" font-size="15">0.1 V</text>
<path d="M1112 963 V972" stroke="#111" stroke-width="1.5"/>
<g stroke="#111" stroke-width="1.5"><line x1="876" y1="984" x2="876" y2="998" marker-end="url(#ah)"/><line x1="1098" y1="984" x2="1098" y2="998" marker-end="url(#ah)"/></g>
<g font-size="15">
<text x="868" y="1018">L<tspan font-size="9" dy="-7">l</tspan><tspan font-size="9" dy="11">1</tspan></text>
<text x="900" y="1018">L<tspan font-size="9" dy="-7">l</tspan><tspan font-size="9" dy="11">2</tspan></text>
<text x="932" y="1018">L<tspan font-size="9" dy="-7">l</tspan><tspan font-size="9" dy="11">3</tspan></text>
<text x="963" y="1018">L<tspan font-size="9" dy="-7">l</tspan><tspan font-size="9" dy="11">4</tspan></text>
<text x="994" y="1018">L<tspan font-size="9" dy="-7">l</tspan><tspan font-size="9" dy="11">5</tspan></text>
<text x="1026" y="1018">L<tspan font-size="9" dy="-7">l</tspan><tspan font-size="9" dy="11">6</tspan></text>
<text x="1058" y="1018">L<tspan font-size="9" dy="-7">l</tspan><tspan font-size="9" dy="11">7</tspan></text>
<text x="1089" y="1018">L<tspan font-size="9" dy="-7">l</tspan><tspan font-size="9" dy="11">8</tspan></text>
</g>
<use href="#car" x="960" y="1050" width="42" height="90" style="color:#c9c9c9" transform="rotate(-90 988 1095)"/>

<!-- ===== Panel e ===== -->
<text x="5" y="1145" font-size="34" font-weight="bold">e</text>
<rect x="74" y="1160" width="226" height="128" fill="none" stroke="#111"/>
<path d="M74 1250 L78 1260 L92 1262 L95 1250 L100 1264 Q105 1270 107 1266 L108 1240 L112 1258 Q118 1265 122 1262 L133 1218 L137 1246 Q145 1260 153 1258 L162 1180 L166 1230 Q175 1260 185 1258 L187 1175 L192 1230 Q200 1260 212 1258 L215 1195 L219 1240 Q228 1262 238 1262 L245 1240 L249 1254 Q258 1264 265 1262 L272 1235 L275 1255 Q285 1265 290 1262 L296 1248 L300 1258" fill="none" stroke="#e41a1c" stroke-width="1.8"/>
<g font-size="15">
<text x="66" y="1198" text-anchor="end">0.1</text><text x="66" y="1262" text-anchor="end">0.0</text>
<text x="74" y="1309" text-anchor="middle">0</text><text x="187" y="1309" text-anchor="middle">50</text><text x="300" y="1309" text-anchor="middle">100</text>
<text x="187" y="1327" text-anchor="middle" font-size="16">Time (ms)</text>
<text transform="translate(38,1225) rotate(-90)" text-anchor="middle" font-style="italic">V<tspan font-size="9" dy="4" font-style="normal">out,l</tspan><tspan dy="-4" font-style="normal"> (V)</tspan></text>
<text x="82" y="1250">L<tspan font-size="9" dy="-7">l</tspan><tspan font-size="9" dy="11">1</tspan></text>
<text x="108" y="1232">L<tspan font-size="9" dy="-7">l</tspan><tspan font-size="9" dy="11">2</tspan></text>
<text x="136" y="1192">L<tspan font-size="9" dy="-7">l</tspan><tspan font-size="9" dy="11">3</tspan></text>
<text x="165" y="1170">L<tspan font-size="9" dy="-7">l</tspan><tspan font-size="9" dy="11">4</tspan></text>
<text x="193" y="1170">L<tspan font-size="9" dy="-7">l</tspan><tspan font-size="9" dy="11">5</tspan></text>
<text x="222" y="1192">L<tspan font-size="9" dy="-7">l</tspan><tspan font-size="9" dy="11">6</tspan></text>
<text x="252" y="1232">L<tspan font-size="9" dy="-7">l</tspan><tspan font-size="9" dy="11">7</tspan></text>
<text x="280" y="1250">L<tspan font-size="9" dy="-7">l</tspan><tspan font-size="9" dy="11">8</tspan></text>
</g>
<rect x="74" y="1335" width="226" height="125" fill="none" stroke="#111"/>
<path d="M74 1440 V1355 H80 L84 1440 H97 V1355 H103 L107 1440 H119 V1355 H126 L130 1440 H142 V1355 H149 L153 1440 H165 V1355 H172 L176 1440 H188 V1355 H195 L199 1440 H211 V1355 H218 L222 1440 H234 V1355 H241 L245 1440 H257 V1355 H264 L268 1440 H280 V1355 H287 L291 1440 H300" fill="none" stroke="#e41a1c" stroke-width="1.8"/>
<g font-size="15">
<text x="66" y="1362" text-anchor="end">4</text><text x="66" y="1445" text-anchor="end">0</text>
<text x="74" y="1480" text-anchor="middle">0</text><text x="187" y="1480" text-anchor="middle">50</text><text x="300" y="1480" text-anchor="middle">100</text>
<text x="187" y="1498" text-anchor="middle" font-size="16">Time (ms)</text>
<text transform="translate(45,1398) rotate(-90)" text-anchor="middle" font-style="italic">V<tspan font-size="9" dy="4" font-style="normal">out,att</tspan><tspan dy="-4" font-style="normal"> (V)</tspan></text>
</g>

<!-- ===== Panel f ===== -->
<text x="315" y="1145" font-size="34" font-weight="bold">f</text>
<text x="325" y="1165" font-size="17" font-family="Liberation Serif">(I)</text>
<text x="472" y="1157" font-size="16" text-anchor="middle">Input</text>
<rect x="364" y="1163" width="226" height="297" fill="none" stroke="#111"/>
<line x1="364" y1="1262" x2="590" y2="1262" stroke="#111"/><line x1="364" y1="1360" x2="590" y2="1360" stroke="#111"/>
<path d="M364 1245 H421 V1180 H423 V1245 H477 V1180 H479 V1245 H534 V1180 H536 V1245 H590" fill="none" stroke="#e41a1c" stroke-width="1.6"/>
<path d="M364 1344 H401 V1278 H403 V1344 H440 V1278 H442 V1344 H478 V1278 H480 V1344 H516" fill="none" stroke="#e8a820" stroke-width="1.6"/>
<path d="M364 1443 H386 V1378 H388 V1443 H404 V1378 H406 V1443 H422 V1378 H424 V1443 H440" fill="none" stroke="#1ea0e6" stroke-width="1.6"/>
<g font-size="15">
<text x="358" y="1186" text-anchor="end">1</text><text x="358" y="1250" text-anchor="end">0</text>
<text x="358" y="1285" text-anchor="end">1</text><text x="358" y="1350" text-anchor="end">0</text>
<text x="358" y="1383" text-anchor="end">1</text><text x="358" y="1448" text-anchor="end">0</text>
<text x="364" y="1480" text-anchor="middle">0</text><text x="477" y="1480" text-anchor="middle">50</text><text x="590" y="1480" text-anchor="middle">100</text>
<text x="477" y="1502" text-anchor="middle" font-size="16">Time (ms)</text>
<text transform="translate(336,1312) rotate(-90)" text-anchor="middle" font-style="italic">V<tspan font-size="9" dy="4" font-style="normal">in</tspan><tspan dy="-4" font-style="normal"> (V)</tspan></text>
<text x="376" y="1190">L<tspan font-size="9" dy="-7">l</tspan><tspan font-size="9" dy="11">1</tspan></text>
<text x="430" y="1190">L<tspan font-size="9" dy="-7">l</tspan><tspan font-size="9" dy="11">2</tspan></text>
<text x="485" y="1190">L<tspan font-size="9" dy="-7">l</tspan><tspan font-size="9" dy="11">3</tspan></text>
<text x="542" y="1190">L<tspan font-size="9" dy="-7">l</tspan><tspan font-size="9" dy="11">4</tspan><tspan dx="8" dy="-4"> ···</tspan></text>
<text x="372" y="1290">L<tspan font-size="9" dy="-7">l</tspan><tspan font-size="9" dy="11">1</tspan></text>
<text x="409" y="1290">L<tspan font-size="9" dy="-7">l</tspan><tspan font-size="9" dy="11">2</tspan></text>
<text x="447" y="1290">L<tspan font-size="9" dy="-7">l</tspan><tspan font-size="9" dy="11">3</tspan></text>
<text x="484" y="1290">L<tspan font-size="9" dy="-7">l</tspan><tspan font-size="9" dy="11">4</tspan><tspan dx="8" dy="-4"> ···</tspan></text>
<text x="365" y="1386" font-size="13">L<tspan font-size="8" dy="-6">l</tspan><tspan font-size="8" dy="9">1</tspan></text>
<text x="386" y="1386" font-size="13">L<tspan font-size="8" dy="-6">l</tspan><tspan font-size="8" dy="9">2</tspan></text>
<text x="406" y="1386" font-size="13">L<tspan font-size="8" dy="-6">l</tspan><tspan font-size="8" dy="9">3</tspan></text>
<text x="425" y="1386" font-size="13">L<tspan font-size="8" dy="-6">l</tspan><tspan font-size="8" dy="9">4</tspan><tspan dx="6" dy="-3" font-size="15"> ···</tspan></text>
</g>
<text x="603" y="1165" font-size="17" font-family="Liberation Serif">(II)</text>
<text x="758" y="1157" font-size="16" text-anchor="middle">Output</text>
<rect x="642" y="1163" width="228" height="297" fill="none" stroke="#111"/>
<line x1="642" y1="1262" x2="870" y2="1262" stroke="#111"/><line x1="642" y1="1360" x2="870" y2="1360" stroke="#111"/>
<path d="M642 1248 V1193 H650 L655 1248 H699 V1193 H709 L713 1248 H756 V1193 H766 L770 1248 H813 V1193 H827 L831 1248 H870" fill="none" stroke="#e41a1c" stroke-width="1.6"/>
<path d="M642 1348 V1292 H650 L654 1348 H680 V1292 H690 L694 1348 H719 V1292 H729 L733 1348 H757 V1292 H770 L774 1348 H800" fill="none" stroke="#e8a820" stroke-width="1.6"/>
<path d="M642 1448 V1392 H650 L654 1448 H664 V1392 H674 L677 1448 H685 V1392 H694 L697 1448 H703 V1392 H714 L717 1448 H722" fill="none" stroke="#1ea0e6" stroke-width="1.6"/>
<g font-size="15">
<text x="636" y="1198" text-anchor="end">4</text><text x="636" y="1254" text-anchor="end">0</text>
<text x="636" y="1298" text-anchor="end">4</text><text x="636" y="1354" text-anchor="end">0</text>
<text x="636" y="1397" text-anchor="end">4</text><text x="636" y="1454" text-anchor="end">0</text>
<text x="642" y="1480" text-anchor="middle">0</text><text x="758" y="1480" text-anchor="middle">50</text><text x="870" y="1480" text-anchor="middle">100</text>
<text x="762" y="1502" text-anchor="middle" font-size="16">Time (ms)</text>
<text transform="translate(613,1312) rotate(-90)" text-anchor="middle" font-style="italic">V<tspan font-size="9" dy="4" font-style="normal">out</tspan><tspan dy="-4" font-style="normal"> (V)</tspan></text>
<text x="765" y="1183" text-anchor="middle" font-size="17">Low Velocity</text>
<text x="772" y="1287" text-anchor="middle" font-size="17">Moderate Velocity</text>
<text x="772" y="1387" text-anchor="middle" font-size="17">High Velocity</text>
</g>

<!-- ===== Panel g ===== -->
<text x="880" y="1148" font-size="34" font-weight="bold">g</text>
<rect x="965" y="1162" width="225" height="128" fill="none" stroke="#111"/>
<g stroke="#111" stroke-width="1">
<rect x="970" y="1234" width="15" height="56" fill="#e8b030"/>
<rect x="998" y="1214" width="15" height="76" fill="#ef8a3a"/>
<rect x="1026" y="1197" width="15" height="93" fill="#ef5a45"/>
<rect x="1054" y="1179" width="15" height="111" fill="#e82020"/>
<rect x="1082" y="1179" width="15" height="111" fill="#e82020"/>
<rect x="1110" y="1197" width="15" height="93" fill="#ef5a45"/>
<rect x="1138" y="1214" width="15" height="76" fill="#ef8a3a"/>
<rect x="1166" y="1234" width="15" height="56" fill="#e8b030"/>
</g>
<g font-size="12" text-anchor="middle">
<text x="977" y="1231">44</text><text x="1005" y="1211">59</text><text x="1033" y="1194">73</text><text x="1061" y="1176">87</text>
<text x="1089" y="1176">87</text><text x="1117" y="1194">73</text><text x="1145" y="1211">59</text><text x="1173" y="1231">44</text>
</g>
<g font-size="15" text-anchor="middle">
<text x="977" y="1307">1</text><text x="1005" y="1307">2</text><text x="1033" y="1307">3</text><text x="1061" y="1307">4</text>
<text x="1089" y="1307">5</text><text x="1117" y="1307">6</text><text x="1145" y="1307">7</text><text x="1173" y="1307">8</text>
<text x="1075" y="1324" font-size="16">Detection location</text>
<text x="957" y="1295" text-anchor="end">0</text><text x="957" y="1232" text-anchor="end">50</text><text x="957" y="1168" text-anchor="end">100</text>
<text transform="translate(918,1226) rotate(-90)">Pulse width (ms)</text>
</g>

<!-- ===== Panel h ===== -->
<text x="885" y="1318" font-size="34" font-weight="bold">h</text>
<rect x="965" y="1337" width="225" height="125" fill="none" stroke="#111"/>
<g stroke="#111" stroke-width="1">
<rect x="982" y="1427" width="37" height="35" fill="#1ea0f0"/>
<rect x="1058" y="1393" width="37" height="69" fill="#2a5cf0"/>
<rect x="1134" y="1358" width="37" height="104" fill="#1010e0"/>
</g>
<g font-size="13" text-anchor="middle">
<text x="1004" y="1423">High Velocity</text><text x="1074" y="1388">Moderate Velocity</text><text x="1153" y="1353">Low Velocity</text>
</g>
<g font-size="15" text-anchor="middle">
<text x="1000" y="1480">1</text><text x="1076" y="1480">2</text><text x="1152" y="1480">3</text>
<text x="1082" y="1502" font-size="16">Velocity state</text>
<text x="957" y="1467" text-anchor="end">0</text><text x="957" y="1425" text-anchor="end">100</text><text x="957" y="1384" text-anchor="end">200</text><text x="957" y="1342" text-anchor="end">300</text>
<text transform="translate(918,1400) rotate(-90)">Pulse interval (ms)</text>
</g>
</svg>
</body></html>
